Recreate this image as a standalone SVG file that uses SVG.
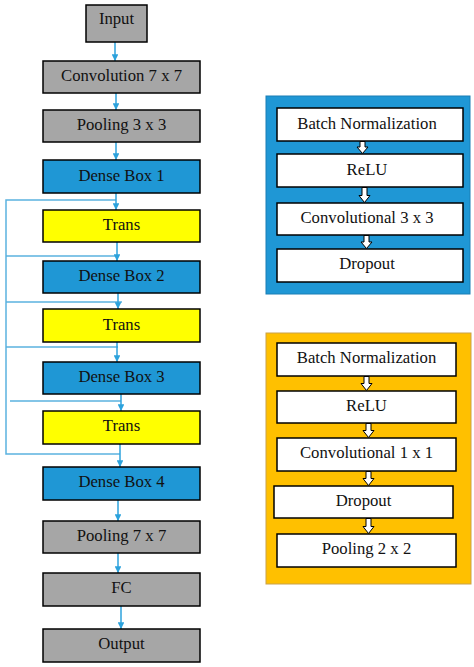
<svg xmlns="http://www.w3.org/2000/svg" width="474" height="667" viewBox="0 0 474 667">
<defs>
<style>
.box{stroke:#000;stroke-width:1.5}
.gray{fill:#A6A6A6}
.blue{fill:#1F97D5}
.yel{fill:#FFFF00}
.wht{fill:#FFFFFF;stroke:#000;stroke-width:1.5}
text{font-family:"Liberation Serif","Times New Roman",serif;font-size:16.7px;text-anchor:middle;fill:#111}
.c{fill:none;stroke:#2CA2DC;stroke-width:1.5}
.s{fill:none;stroke:#5BB2E0;stroke-width:1.5}
.h{fill:#fff;stroke:#000;stroke-width:1}
</style>
<marker id="ah" viewBox="0 0 10 10" refX="10" refY="5" markerWidth="4.5" markerHeight="4.5" orient="auto" markerUnits="strokeWidth">
<path d="M0,0 L10,5 L0,10 z" fill="#2CA2DC"/>
</marker>
</defs>
<rect width="474" height="667" fill="#fff"/>
<g id="connectors">
<path class="s" d="M116,200 H6 V454 H120 M6,256 H117 M6,302 H122 M6,347 H118 M10,401 H121"/>
<line class="c" x1="115" y1="42" x2="115" y2="61" marker-end="url(#ah)"/>
<line class="c" x1="116" y1="93" x2="116" y2="110" marker-end="url(#ah)"/>
<line class="c" x1="116" y1="142" x2="116" y2="160" marker-end="url(#ah)"/>
<line class="c" x1="116" y1="193" x2="116" y2="210" marker-end="url(#ah)"/>
<line class="c" x1="117" y1="242" x2="117" y2="261" marker-end="url(#ah)"/>
<line class="c" x1="118" y1="293" x2="118" y2="309" marker-end="url(#ah)"/>
<line class="c" x1="117" y1="342" x2="117" y2="362" marker-end="url(#ah)"/>
<line class="c" x1="121" y1="394" x2="121" y2="411" marker-end="url(#ah)"/>
<line class="c" x1="120" y1="444" x2="120" y2="467" marker-end="url(#ah)"/>
<line class="c" x1="118" y1="500" x2="118" y2="521" marker-end="url(#ah)"/>
<line class="c" x1="118" y1="553" x2="118" y2="573" marker-end="url(#ah)"/>
<line class="c" x1="121" y1="606" x2="121" y2="629" marker-end="url(#ah)"/>
</g>
<g id="input"><rect class="box gray" x="86" y="5" width="61" height="37"/><text x="116.5" y="24">Input</text></g>
<g id="conv7"><rect class="box gray" x="43" y="61" width="157" height="32"/><text x="121.5" y="81">Convolution 7 x 7</text></g>
<g id="pool3"><rect class="box gray" x="43" y="110" width="157" height="32"/><text x="121.5" y="130">Pooling 3 x 3</text></g>
<g id="dense1"><rect class="box blue" x="43" y="160" width="157" height="33"/><text x="121.5" y="181">Dense Box 1</text></g>
<g id="trans1"><rect class="box yel" x="43" y="210" width="157" height="32"/><text x="121.5" y="230">Trans</text></g>
<g id="dense2"><rect class="box blue" x="43" y="261" width="157" height="32"/><text x="121.5" y="281">Dense Box 2</text></g>
<g id="trans2"><rect class="box yel" x="43" y="309" width="157" height="33"/><text x="121.5" y="330">Trans</text></g>
<g id="dense3"><rect class="box blue" x="43" y="362" width="157" height="32"/><text x="121.5" y="382">Dense Box 3</text></g>
<g id="trans3"><rect class="box yel" x="43" y="411" width="157" height="33"/><text x="121.5" y="431">Trans</text></g>
<g id="dense4"><rect class="box blue" x="43" y="467" width="157" height="33"/><text x="121.5" y="487">Dense Box 4</text></g>
<g id="pool7"><rect class="box gray" x="43" y="521" width="157" height="32"/><text x="121.5" y="541">Pooling 7 x 7</text></g>
<g id="fc"><rect class="box gray" x="43" y="573" width="157" height="33"/><text x="121.5" y="593">FC</text></g>
<g id="output"><rect class="box gray" x="43" y="629" width="157" height="33"/><text x="121.5" y="649">Output</text></g>

<g id="densebox-detail">
<rect x="266" y="96" width="204" height="198" fill="#1F97D5" stroke="#1a7fb5" stroke-width="1"/>
<rect class="wht" x="277" y="108" width="186" height="33"/><text x="367" y="129">Batch Normalization</text>
<rect class="wht" x="277" y="154" width="186" height="33"/><text x="367" y="175">ReLU</text>
<rect class="wht" x="277" y="203" width="186" height="32"/><text x="367" y="223">Convolutional 3 x 3</text>
<rect class="wht" x="277" y="249" width="186" height="33"/><text x="367" y="269">Dropout</text>
<path class="h" d="M360,141.5 h5 v5.5 h3 l-5.5,6.5 l-5.5,-6.5 h3 z"/>
<path class="h" d="M362,187.5 h5 v8 h3 l-5.5,7 l-5.5,-7 h3 z"/>
<path class="h" d="M364,235.5 h5 v6.5 h3 l-5.5,6.5 l-5.5,-6.5 h3 z"/>
</g>

<g id="trans-detail">
<rect x="266" y="333" width="205" height="251" fill="#FFC000" stroke="#c9a24a" stroke-width="1"/>
<rect class="wht" x="277" y="343" width="179" height="33"/><text x="366.5" y="363">Batch Normalization</text>
<rect class="wht" x="277" y="391" width="179" height="32"/><text x="366.5" y="411">ReLU</text>
<rect class="wht" x="277" y="438" width="179" height="33"/><text x="366.5" y="458">Convolutional 1 x 1</text>
<rect class="wht" x="274" y="486" width="179" height="32"/><text x="363.5" y="506">Dropout</text>
<rect class="wht" x="277" y="534" width="179" height="33"/><text x="366.5" y="554">Pooling 2 x 2</text>
<path class="h" d="M364,376.5 h5 v7 h3 l-5.5,7 l-5.5,-7 h3 z"/>
<path class="h" d="M366,423.5 h5 v7 h3 l-5.5,7 l-5.5,-7 h3 z"/>
<path class="h" d="M366,471.5 h5 v7 h3 l-5.5,7 l-5.5,-7 h3 z"/>
<path class="h" d="M366,518.5 h5 v8 h3 l-5.5,7 l-5.5,-7 h3 z"/>
</g>
</svg>
